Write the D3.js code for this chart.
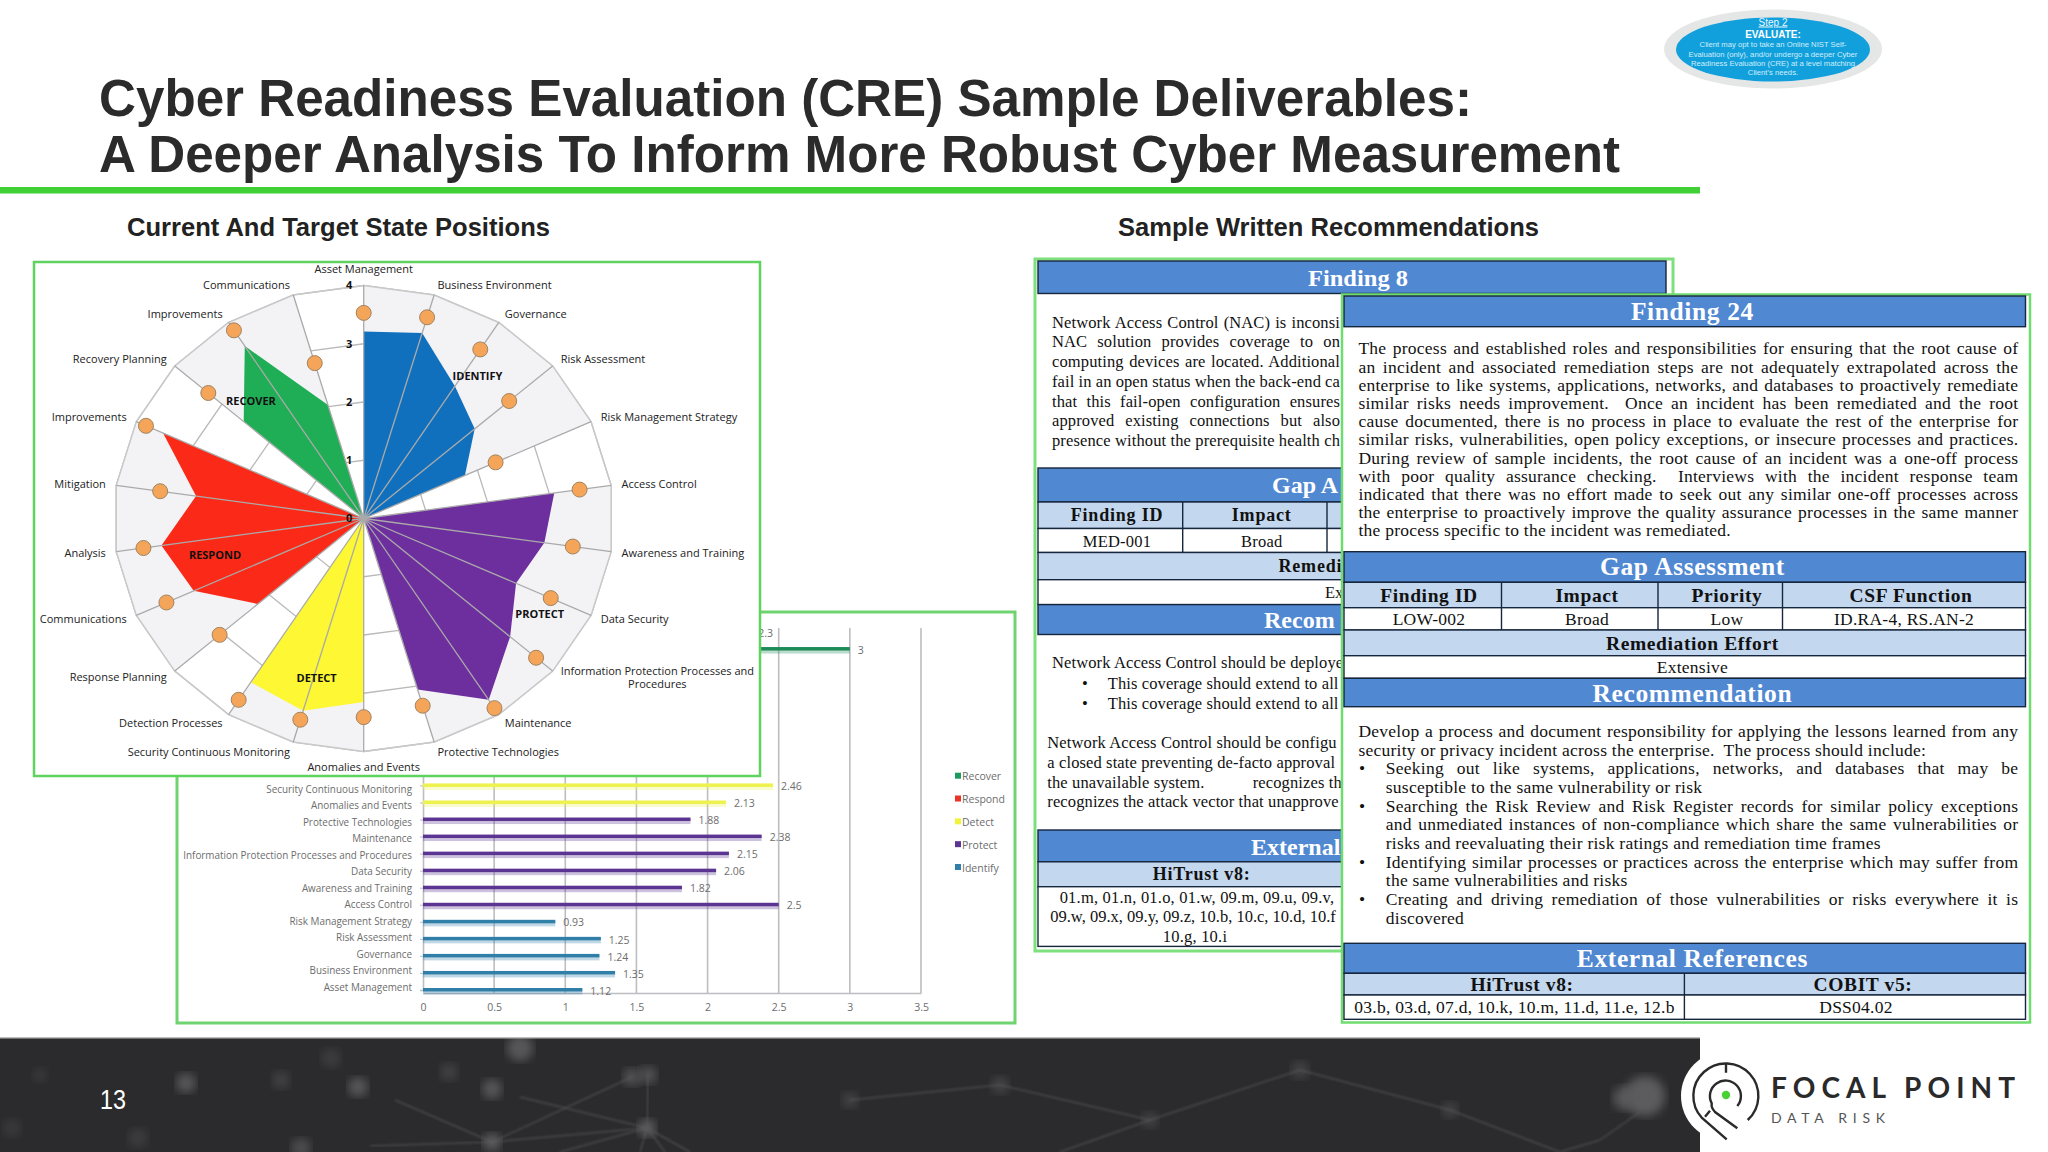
<!DOCTYPE html>
<html>
<head>
<meta charset="utf-8">
<title>Cyber Readiness Evaluation</title>
<script src="https://cdnjs.cloudflare.com/ajax/libs/d3/7.8.5/d3.min.js"></script>
<style>
  html, body { margin: 0; padding: 0; background: #fff; }
  svg { display: block; }
</style>
</head>
<body>
<div id="canvas"></div>
<script>
// chart values
var categories = ['Asset Management', 'Business Environment', 'Governance', 'Risk Assessment', 'Risk Management Strategy',
  'Access Control', 'Awareness and Training', 'Data Security', 'Information Protection Processes and Procedures', 'Maintenance', 'Protective Technologies',
  'Anomalies and Events', 'Security Continuous Monitoring', 'Detection Processes',
  'Response Planning', 'Communications', 'Analysis', 'Mitigation', 'Improvements',
  'Recovery Planning', 'Improvements', 'Communications'];
var currentValues = [3.21, 3.32, 2.7, 2.35, 1.78, 3.08, 2.92, 2.68, 3.1, 3.7, 3.06, 3.15, 3.44, 3.34, 2.24, 2.99, 3.27, 2.71, 3.53, 2.54, 3.52, 2.03];
var targetValues = [3.53, 3.6, 3.45, 3.08, 2.32, 3.49, 3.38, 3.29, 3.65, 3.87, 3.35, 3.41, 3.6, 3.7, 3.05, 3.47, 3.56, 3.29, 3.83, 3.29, 3.84, 2.78];
// bars for index 13 to 19 sit behind the radar panel, so those are rough guesses
var barValues = [1.12, 1.35, 1.24, 1.25, 0.93, 2.5, 1.82, 2.06, 2.15, 2.38, 1.88, 2.13, 2.46, 2.1, 1.25, 1.75, 2.05, 1.7, 2.2, 1.9, 3, 2.3];
var functionNames = ['IDENTIFY', 'PROTECT', 'DETECT', 'RESPOND', 'RECOVER'];
var functionSizes = [5, 6, 3, 5, 3];
var radarColors = ['#1170bd', '#6d2f9e', '#fdf734', '#fb2a18', '#1fae55'];
var barColors = ['#2f7fa9', '#5b3591', '#eef24e', '#e8352a', '#1d8a58'];
var legendNames = ['Recover', 'Respond', 'Detect', 'Protect', 'Identify'];
var legendColors = ['#1d9a60', '#e8352a', '#f3f23c', '#5b3591', '#2f7fa9'];
var radarTicks = [0, 1, 2, 3, 4];
var barTicks = [0, 0.5, 1, 1.5, 2, 2.5, 3, 3.5];

var titleLines = ['Cyber Readiness Evaluation (CRE) Sample Deliverables:', 'A Deeper Analysis To Inform More Robust Cyber Measurement'];
var ovalLines = ['Client may opt to take an Online NIST Self-', 'Evaluation (only), and/or undergo a deeper Cyber', 'Readiness Evaluation (CRE) at a level matching', 'Client\u2019s needs.'];

var finding8Para = ['Network Access Control (NAC) is inconsi', 'NAC solution provides coverage to on', 'computing devices are located. Additional', 'fail in an open status when the back-end ca', 'that this fail-open configuration ensures', 'approved existing connections but also', 'presence without the prerequisite health ch'];
var finding24Para = [
  'The process and established roles and responsibilities for ensuring that the root cause of',
  'an incident and associated remediation steps are not adequately extrapolated across the',
  'enterprise to like systems, applications, networks, and databases to proactively remediate',
  'similar risks needs improvement.  Once an incident has been remediated and the root',
  'cause documented, there is no process in place to evaluate the rest of the enterprise for',
  'similar risks, vulnerabilities, open policy exceptions, or insecure processes and practices.',
  'During review of sample incidents, the root cause of an incident was a one-off process',
  'with poor quality assurance checking.  Interviews with the incident response team',
  'indicated that there was no effort made to seek out any similar one-off processes across',
  'the enterprise to proactively improve the quality assurance processes in the same manner',
  'the process specific to the incident was remediated.'];
var finding24Rec = [
  ['Develop a process and document responsibility for applying the lessons learned from any', 0, 1],
  ['security or privacy incident across the enterprise.  The process should include:', 0, 0],
  ['Seeking out like systems, applications, networks, and databases that may be', 1, 1],
  ['susceptible to the same vulnerability or risk', 2, 0],
  ['Searching the Risk Review and Risk Register records for similar policy exceptions', 1, 1],
  ['and unmediated instances of non-compliance which share the same vulnerabilities or', 2, 1],
  ['risks and reevaluating their risk ratings and remediation time frames', 2, 0],
  ['Identifying similar processes or practices across the enterprise which may suffer from', 1, 1],
  ['the same vulnerabilities and risks', 2, 0],
  ['Creating and driving remediation of those vulnerabilities or risks everywhere it is', 1, 1],
  ['discovered', 2, 0]];

var serif = '"Liberation Serif", serif';
var sans = '"Liberation Sans", sans-serif';
var labelFont = '"Open Sans", sans-serif';

var svg = d3.select('#canvas').append('svg')
  .attr('width', 2048)
  .attr('height', 1152);

// small helper, y is the middle of the text
var txt = function(g, str, x, y, o) {
  o = o || {};
  return g.append('text')
    .attr('x', x).attr('y', y).attr('dy', '.35em')
    .attr('text-anchor', o.anchor || 'start')
    .attr('font-family', o.font || sans)
    .attr('font-size', o.size || 12)
    .attr('font-weight', o.weight || 'normal')
    .attr('fill', o.fill || '#111')
    .attr('letter-spacing', o.spacing || null)
    .style('white-space', 'pre')
    .text(str);
};

// stretch the word gaps so a line fills its width
var justify = function(t, width) {
  var gaps = t.text().split(' ').length - 1;
  var extra = width - t.node().getComputedTextLength();
  if (gaps > 0) t.attr('word-spacing', extra / gaps);
  return t;
};

// squeeze or stretch the glyphs to the width seen in the picture
var fit = function(t, width) {
  return t.attr('textLength', width).attr('lengthAdjust', 'spacingAndGlyphs');
};

var drawHeader = function() {
  svg.append('rect').attr('width', 2048).attr('height', 1152).attr('fill', '#fff');
  fit(txt(svg, titleLines[0], 99, 98, {size: 51, weight: 'bold', fill: '#2b2b2b'}), 1373);
  fit(txt(svg, titleLines[1], 99, 154, {size: 51, weight: 'bold', fill: '#2b2b2b'}), 1521);
  svg.append('rect').attr('x', 0).attr('y', 187).attr('width', 1700).attr('height', 6.5).attr('fill', '#41d035');
  fit(txt(svg, 'Current And Target State Positions', 127, 227, {size: 26, weight: 'bold', fill: '#222'}), 423);
  fit(txt(svg, 'Sample Written Recommendations', 1118, 227, {size: 26, weight: 'bold', fill: '#222'}), 421);

  svg.append('ellipse').attr('cx', 1773).attr('cy', 49).attr('rx', 109).attr('ry', 39.5).attr('fill', '#e5e6e6');
  svg.append('ellipse').attr('cx', 1773).attr('cy', 49.5).attr('rx', 97).attr('ry', 32).attr('fill', '#12a0dc');
  txt(svg, 'Step 2', 1773, 22, {size: 10, anchor: 'middle', fill: '#eaf7ff'}).attr('text-decoration', 'underline');
  txt(svg, 'EVALUATE:', 1773, 34, {size: 10, weight: 'bold', anchor: 'middle', fill: '#fff'});
  ovalLines.forEach(function(line, i) {
    txt(svg, line, 1773, 44.7 + i * 9.2, {size: 7.7, anchor: 'middle', fill: '#cfeefb'});
  });
};

var drawFooter = function() {
  var defs = svg.append('defs');
  defs.append('filter').attr('id', 'soft').append('feGaussianBlur').attr('stdDeviation', 5);
  defs.append('filter').attr('id', 'softer').append('feGaussianBlur').attr('stdDeviation', 1);
  defs.append('clipPath').attr('id', 'band').append('rect')
    .attr('x', 0).attr('y', 1038).attr('width', 1700).attr('height', 114);

  var g = svg.append('g').attr('clip-path', 'url(#band)');
  g.append('rect').attr('x', 0).attr('y', 1038).attr('width', 1700).attr('height', 114).attr('fill', '#2b2b2d');

  var links = [[492, 1142, 647, 1128], [492, 1142, 632, 1077], [647, 1128, 520, 1097], [492, 1142, 395, 1100], [492, 1142, 370, 1146],
    [647, 1128, 648, 1075], [647, 1128, 690, 1152], [647, 1128, 560, 1152], [647, 1128, 640, 1152], [647, 1128, 665, 1152], [492, 1142, 492, 1089],
    [850, 1100, 1000, 1085], [1000, 1085, 1150, 1120], [1150, 1120, 1300, 1070], [1150, 1120, 1060, 1152], [1300, 1070, 1450, 1110], [1450, 1110, 1560, 1152], [1600, 1140, 1640, 1112], [1600, 1140, 1560, 1152]];
  g.selectAll('line.link').data(links).enter().append('line')
    .attr('class', 'link')
    .attr('x1', function(d) { return d[0]; }).attr('y1', function(d) { return d[1]; })
    .attr('x2', function(d) { return d[2]; }).attr('y2', function(d) { return d[3]; })
    .attr('stroke', '#4a4a4c').attr('stroke-width', 1.5).attr('filter', 'url(#softer)');

  // x, y, radius, strength
  var blobs = [[186, 1083, 10, 0.9], [358, 1087, 10, 0.9], [492, 1089, 10, 0.9], [520, 1048, 13, 0.9], [648, 1075, 9, 0.8], [632, 1077, 9, 0.8], [492, 1142, 9, 1], [647, 1128, 9, 1], [301, 1148, 10, 0.7],
    [449, 1072, 9, 0.45], [281, 1080, 9, 0.45], [331, 1058, 10, 0.35], [138, 1138, 10, 0.35], [40, 1075, 7, 0.3], [12, 1128, 9, 0.3], [850, 1100, 8, 0.5], [1000, 1085, 9, 0.5], [1150, 1120, 8, 0.5], [1300, 1070, 9, 0.5], [1450, 1110, 8, 0.5], [1645, 1096, 20, 1], [1625, 1098, 12, 0.9]];
  g.selectAll('circle.blob').data(blobs).enter().append('circle')
    .attr('class', 'blob')
    .attr('cx', function(d) { return d[0]; }).attr('cy', function(d) { return d[1]; }).attr('r', function(d) { return d[2]; })
    .attr('fill', '#5c5c5e').attr('opacity', function(d) { return d[3]; }).attr('filter', 'url(#soft)');

  svg.append('rect').attr('x', 0).attr('y', 1037).attr('width', 1700).attr('height', 1.5).attr('fill', '#bdbdbd');
  fit(txt(svg, '13', 100, 1100, {size: 27, fill: '#fff'}), 26);

  // logo
  svg.append('circle').attr('cx', 1726).attr('cy', 1096).attr('r', 45).attr('fill', '#fff');
  svg.append('rect').attr('x', 1700).attr('y', 1030).attr('width', 348).attr('height', 122).attr('fill', '#fff');
  var logo = svg.append('g').attr('fill', 'none').attr('stroke', '#2a2a2a').attr('stroke-width', 2.4);
  logo.append('path').attr('d', 'M1747.7 1120 A32.5 32.5 0 1 0 1702 1118 L1726.7 1139.3');
  logo.append('path').attr('d', 'M1737.3 1106 A15.5 15.5 0 1 0 1711.7 1103.3 Q1711 1108 1715 1112 L1737.3 1128.3');
  logo.append('path').attr('d', 'M1726 1063.3 L1726 1072.7 M1705 1116.7 L1710 1110.7');
  svg.append('circle').attr('cx', 1726).attr('cy', 1095).attr('r', 4.2).attr('fill', '#47d133');
  txt(svg, 'FOCAL POINT', 1771, 1088.5, {font: 'Lato, sans-serif', size: 28, weight: 'bold', fill: '#2a2a2a'})
    .attr('textLength', 244).attr('lengthAdjust', 'spacing');
  txt(svg, 'DATA RISK', 1771, 1118, {font: 'Lato, sans-serif', size: 14, fill: '#555'})
    .attr('textLength', 114).attr('lengthAdjust', 'spacing');
};

var drawBars = function() {
  var g = svg.append('g');
  g.append('rect').attr('x', 177).attr('y', 612).attr('width', 838).attr('height', 411)
    .attr('fill', '#fff').attr('stroke', '#6fd36f').attr('stroke-width', 3);

  var x = d3.scaleLinear().domain([0, 3.5]).range([423, 921]);
  var y = d3.scalePoint().domain(d3.range(categories.length)).range([990, 632]);

  g.selectAll('line.grid').data(barTicks.slice(1)).enter().append('line')
    .attr('class', 'grid')
    .attr('x1', x).attr('x2', x).attr('y1', 628).attr('y2', 993)
    .attr('stroke', '#bdbdc2').attr('stroke-width', 1.6);

  var bottom = g.append('g').attr('transform', 'translate(0,993)')
    .call(d3.axisBottom(x).tickValues(barTicks).tickFormat(function(d) { return d; }).tickSize(0).tickPadding(11));
  var left = g.append('g').attr('transform', 'translate(423,0)')
    .call(d3.axisLeft(y).tickFormat(function(i) { return categories[i]; }).tickSize(3).tickPadding(8));
  bottom.selectAll('text').attr('font-size', 10.5);
  left.selectAll('text').attr('font-size', 9.9);
  [bottom, left].forEach(function(a) {
    a.selectAll('text').attr('font-family', labelFont).attr('fill', '#6d6d6d');
    a.selectAll('.domain, line').attr('stroke', '#bdbdc2');
    a.select('.domain').attr('stroke-width', 1.6);
  });
  // the labels in the picture drift off the bars a little going up
  left.selectAll('.tick text').attr('dy', function(i) { return 0.5 + i * 0.54; });
  // labels from index 13 up are behind the radar panel
  left.selectAll('.tick text').filter(function(i) { return i > 12; }).remove();

  var functionOf = [];
  functionSizes.forEach(function(n, f) { d3.range(n).forEach(function() { functionOf.push(f); }); });

  var rows = g.selectAll('g.row').data(barValues).enter().append('g').attr('class', 'row');
  rows.append('rect')
    .attr('x', x(0)).attr('y', function(d, i) { return y(i) - 1; })
    .attr('width', function(d) { return x(d) - x(0); }).attr('height', 5.5)
    .attr('fill', function(d, i) { return barColors[functionOf[i]]; }).attr('opacity', 0.3);
  rows.append('rect')
    .attr('x', x(0)).attr('y', function(d, i) { return y(i) - 2; })
    .attr('width', function(d) { return x(d) - x(0); }).attr('height', 3.5)
    .attr('fill', function(d, i) { return barColors[functionOf[i]]; });
  rows.filter(function(d, i) { return i < 13 || i > 19; }).append('text')
    .attr('x', function(d) { return x(d) + 8; }).attr('y', function() { return y(barValues.indexOf(this.__data__)) + 1; }).attr('dy', '.35em')
    .attr('font-family', labelFont).attr('font-size', 10.5).attr('fill', '#6d6d6d')
    .text(function(d) { return d; });

  var legend = d3.scalePoint().domain(legendNames).range([776.7, 868]);
  legendNames.forEach(function(name, i) {
    g.append('rect').attr('x', 955).attr('y', legend(name) - 4).attr('width', 6).attr('height', 6).attr('fill', legendColors[i]);
    txt(g, name, 962, legend(name), {font: labelFont, size: 10.5, fill: '#6d6d6d'});
  });
};

var drawRadar = function() {
  var g = svg.append('g');
  g.append('rect').attr('x', 34).attr('y', 262).attr('width', 726).attr('height', 514)
    .attr('fill', '#fff').attr('stroke', '#5fd35f').attr('stroke-width', 2.5);

  var cx = 363.7, cy = 518.5;
  var n = categories.length;
  var rX = d3.scaleLinear().domain([0, 4]).range([0, 250]);
  var rY = d3.scaleLinear().domain([0, 4]).range([0, 233]);
  var angle = function(i) { return i * 2 * Math.PI / n; };
  var px = function(i, v) { return cx + rX(v) * Math.sin(angle(i)); };
  var py = function(i, v) { return cy - rY(v) * Math.cos(angle(i)); };
  var line = d3.line().x(function(d) { return px(d[0], d[1]); }).y(function(d) { return py(d[0], d[1]); });

  // rings first, the grey sections hide them everywhere but in the gaps
  radarTicks.slice(1).forEach(function(v) {
    var ring = d3.range(n).map(function(i) { return [i, v]; });
    g.append('path').attr('d', line(ring) + 'Z').attr('fill', 'none').attr('stroke', '#b9b9b9').attr('stroke-width', 1.3);
  });

  var start = 0;
  functionSizes.forEach(function(size, f) {
    var idx = d3.range(start, start + size);
    var back = [[0, 0]].concat(idx.map(function(i) { return [i, 4]; }));
    var front = [[0, 0]].concat(idx.map(function(i) { return [i, currentValues[i]]; }));
    g.append('path').attr('d', line(back) + 'Z').attr('fill', '#f3f3f6');
    g.append('path').attr('d', line(front) + 'Z').attr('fill', radarColors[f]);
    start += size;
  });

  var outer = d3.range(n).map(function(i) { return [i, 4]; });
  g.append('path').attr('d', line(outer) + 'Z').attr('fill', 'none').attr('stroke', '#c9c9c9').attr('stroke-width', 1.5);

  g.selectAll('line.spoke').data(d3.range(n)).enter().append('line')
    .attr('class', 'spoke')
    .attr('x1', cx).attr('y1', cy)
    .attr('x2', function(i) { return px(i, 4); }).attr('y2', function(i) { return py(i, 4); })
    .attr('stroke', '#aaa').attr('stroke-width', 1.3);

  g.selectAll('circle.target').data(targetValues).enter().append('circle')
    .attr('class', 'target')
    .attr('cx', function(d, i) { return px(i, d); }).attr('cy', function(d, i) { return py(i, d); })
    .attr('r', 7.5).attr('fill', '#f5a55a').attr('stroke', '#a08460').attr('stroke-width', 1);

  radarTicks.forEach(function(v) {
    txt(g, v, cx - 14.5, cy - rY(v), {font: labelFont, size: 11, weight: 'bold', anchor: 'middle', fill: '#111'});
  });

  // category labels around the outside
  categories.forEach(function(name, i) {
    var s = Math.sin(angle(i)), c = Math.cos(angle(i));
    var lx = px(i, 4), ly = py(i, 4) - c * 10;
    var o = {font: labelFont, size: 11, fill: '#222'};
    if (i === 0 || i === 11) {
      txt(g, name, lx, ly - c * 6, Object.assign(o, {anchor: 'middle'}));
    } else if (name.length > 40) {
      // the long one wraps in two centred lines
      var first = txt(g, 'Information Protection Processes and', lx + 8, ly - 6.6, o);
      var w = first.node().getComputedTextLength();
      txt(g, 'Procedures', lx + 8 + w / 2, ly + 6.6, Object.assign(o, {anchor: 'middle'}));
    } else {
      var off = 0.5 + 10 * Math.abs(s);
      txt(g, name, s > 0 ? lx + off : lx - off, ly, Object.assign(o, {anchor: s > 0 ? 'start' : 'end'}));
    }
  });

  // function names, placed in spoke index and value terms
  var spots = [[2.24, 3.05], [7.35, 3.26], [11.94, 2.84], [15.6, 2.46], [19.45, 2.71]];
  functionNames.forEach(function(name, f) {
    txt(g, name, px(spots[f][0], spots[f][1]), py(spots[f][0], spots[f][1]), {font: labelFont, size: 11, weight: 'bold', anchor: 'middle', fill: '#111'});
  });
};

// one full width row of a finding table
var band = function(g, x, w, y0, y1, fill) {
  g.append('rect').attr('x', x).attr('y', y0).attr('width', w).attr('height', y1 - y0)
    .attr('fill', fill).attr('stroke', '#16263c').attr('stroke-width', 1.4);
};
var vbar = function(g, x, y0, y1) {
  g.append('line').attr('x1', x).attr('x2', x).attr('y1', y0).attr('y2', y1).attr('stroke', '#16263c').attr('stroke-width', 1.4);
};

var blue = '#5188d2', pale = '#c3d7ee';

var drawFinding8 = function() {
  var g = svg.append('g');
  var x = 1038, w = 628, mid = x + w / 2 + 6;
  g.append('rect').attr('x', 1035).attr('y', 259).attr('width', 638).attr('height', 692)
    .attr('fill', '#fff').attr('stroke', '#7de07d').attr('stroke-width', 3);
  var head = {font: serif, size: 24, weight: 'bold', fill: '#fff'};
  var sub = {font: serif, size: 18, weight: 'bold', anchor: 'middle', fill: '#111', spacing: 0.8};
  var subLeft = {font: serif, size: 18, weight: 'bold', fill: '#111', spacing: 0.8};
  var cell = {font: serif, size: 16.5, anchor: 'middle', fill: '#111', spacing: 0.2};
  var body = {font: serif, size: 16.5, fill: '#111', spacing: 0.12};

  band(g, x, w, 261, 293.5, blue);
  fit(txt(g, 'Finding 8', mid, 278, Object.assign({}, head, {anchor: 'middle'})), 100);
  d3.range(finding8Para.length).forEach(function(i) {
    justify(txt(g, finding8Para[i], 1052, 322 + i * 19.7, body), 288);
  });
  band(g, x, w, 468, 502, blue);
  txt(g, 'Gap A', 1272, 485, head);
  band(g, x, w, 502, 528.5, pale);
  band(g, x, w, 528.5, 552.5, '#fff');
  vbar(g, 1182.7, 502, 552.5);
  vbar(g, 1327, 502, 552.5);
  txt(g, 'Finding ID', 1117, 515, sub);
  txt(g, 'Impact', 1261.7, 515, sub);
  txt(g, 'MED-001', 1117, 541, cell);
  txt(g, 'Broad', 1261.7, 541, cell);
  band(g, x, w, 552.5, 579.7, pale);
  txt(g, 'Remedi', 1278.5, 566, subLeft);
  band(g, x, w, 579.7, 604.6, '#fff');
  txt(g, 'Ex', 1325, 592, {font: serif, size: 16.5, fill: '#111'});
  band(g, x, w, 604.6, 634.5, blue);
  txt(g, 'Recom', 1264, 620, head);

  txt(g, 'Network Access Control should be deploye', 1052, 662.5, body);
  txt(g, '\u2022', 1082, 683, body);
  txt(g, 'This coverage should extend to all', 1107.7, 683, body);
  txt(g, '\u2022', 1082, 703.7, body);
  txt(g, 'This coverage should extend to all', 1107.7, 703.7, body);
  txt(g, 'Network Access Control should be configu', 1047.3, 742.7, body);
  txt(g, 'a closed state preventing de-facto approval', 1047.3, 762, body);
  txt(g, 'the unavailable system.', 1047.3, 782, body);
  txt(g, 'recognizes th', 1252.7, 782, body);
  txt(g, 'recognizes the attack vector that unapprove', 1047.3, 801.5, body);

  band(g, x, w, 830, 861.8, blue);
  txt(g, 'External', 1251, 847, head);
  band(g, x, w, 861.8, 886.7, pale);
  txt(g, 'HiTrust v8:', 1201.7, 874, sub);
  band(g, x, w, 886.7, 946.4, '#fff');
  txt(g, '01.m, 01.n, 01.o, 01.w, 09.m, 09.u, 09.v,', 1197, 897, cell);
  txt(g, '09.w, 09.x, 09.y, 09.z, 10.b, 10.c, 10.d, 10.f', 1193, 916, {font: serif, size: 16.5, anchor: 'middle', fill: '#111'});
  txt(g, '10.g, 10.i', 1195, 936.5, cell);
};

var drawFinding24 = function() {
  var g = svg.append('g');
  var x = 1344, w = 681.5, mid = 1692.4;
  g.append('rect').attr('x', 1342).attr('y', 294.5).attr('width', 688).attr('height', 728)
    .attr('fill', '#fff').attr('stroke', '#6fdc6f').attr('stroke-width', 2.5);
  var head = {font: serif, size: 25.5, weight: 'bold', anchor: 'middle', fill: '#fff', spacing: 0.6};
  var sub = {font: serif, size: 19.5, weight: 'bold', anchor: 'middle', fill: '#111', spacing: 0.6};
  var cell = {font: serif, size: 17.5, anchor: 'middle', fill: '#111', spacing: 0.25};
  var body = {font: serif, size: 17.5, fill: '#111', spacing: 0.25};
  var rows = d3.scaleLinear().domain([0, 10]);

  band(g, x, w, 296, 326.7, blue);
  txt(g, 'Finding 24', mid, 311, head);
  rows.range([348.3, 530.3]);
  finding24Para.forEach(function(line, i) {
    var t = txt(g, line, 1358.4, rows(i), body);
    if (i < finding24Para.length - 1) justify(t, 660);
  });

  band(g, x, w, 551.7, 582.3, blue);
  txt(g, 'Gap Assessment', mid, 566, head);
  band(g, x, w, 582.3, 607.7, pale);
  band(g, x, w, 607.7, 630, '#fff');
  [1501.5, 1658, 1782.5].forEach(function(v) { vbar(g, v, 582.3, 630); });
  txt(g, 'Finding ID', 1429, 595, sub);
  txt(g, 'Impact', 1587, 595, sub);
  txt(g, 'Priority', 1727, 595, sub);
  txt(g, 'CSF Function', 1911, 595, sub);
  txt(g, 'LOW-002', 1429, 619, cell);
  txt(g, 'Broad', 1587, 619, cell);
  txt(g, 'Low', 1727, 619, cell);
  txt(g, 'ID.RA-4, RS.AN-2', 1904, 619, cell);
  band(g, x, w, 630, 655.7, pale);
  txt(g, 'Remediation Effort', mid, 643, sub);
  band(g, x, w, 655.7, 678.3, '#fff');
  txt(g, 'Extensive', mid, 667, cell);

  band(g, x, w, 678.3, 706.7, blue);
  txt(g, 'Recommendation', mid, 693, head);
  rows.range([730.7, 917.7]);
  finding24Rec.forEach(function(r, i) {
    var left = r[1] === 0 ? 1358.4 : 1385.8;
    if (r[1] === 1) txt(g, '\u2022', 1359, rows(i), body);
    var t = txt(g, r[0], left, rows(i), body);
    if (r[2]) justify(t, 2018.3 - left);
  });

  band(g, x, w, 943.3, 973.3, blue);
  txt(g, 'External References', mid, 958, head);
  band(g, x, w, 973.3, 995, pale);
  band(g, x, w, 995, 1019.3, '#fff');
  vbar(g, 1684.4, 973.3, 1019.3);
  txt(g, 'HiTrust v8:', 1522, 984, sub);
  txt(g, 'COBIT v5:', 1863, 984, sub);
  txt(g, '03.b, 03.d, 07.d, 10.k, 10.m, 11.d, 11.e, 12.b', 1514.5, 1007, cell);
  txt(g, 'DSS04.02', 1856, 1007, cell);
};

drawHeader();
drawFooter();
drawBars();
drawRadar();
drawFinding8();
drawFinding24();
</script>
</body>
</html>
